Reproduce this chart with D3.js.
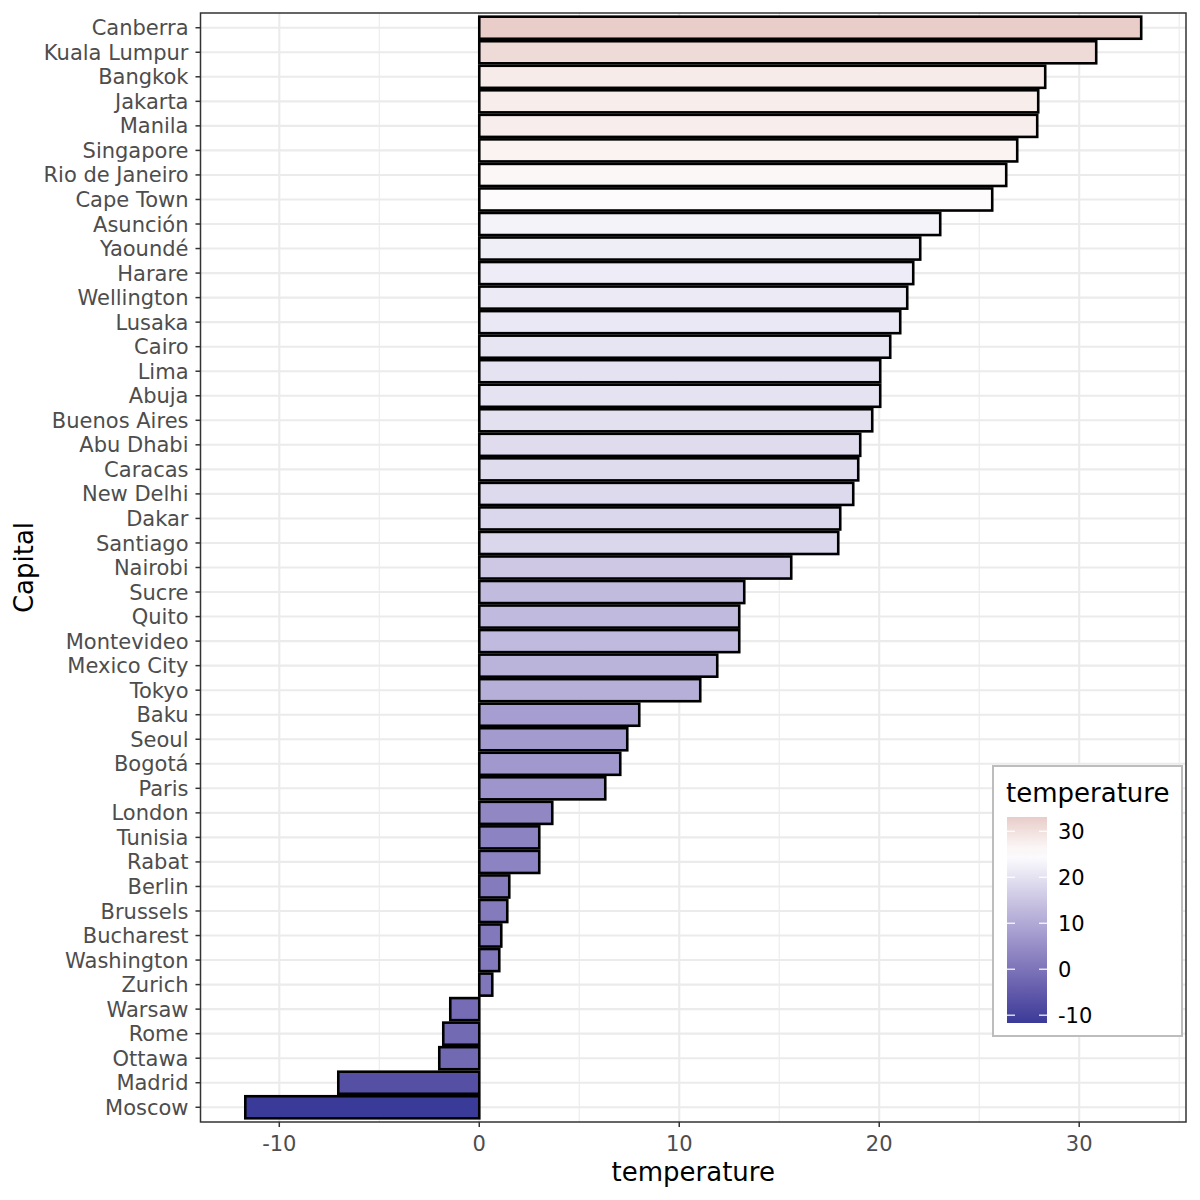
<!DOCTYPE html>
<html>
<head>
<meta charset="utf-8">
<script src="https://cdn.jsdelivr.net/npm/d3@7"></script>
<style>
  body { margin: 0; background: #fff; }
  svg { display: block; }
  text { font-family: "DejaVu Sans", sans-serif; }
</style>
</head>
<body>
<script>
const capitals = ["Canberra","Kuala Lumpur","Bangkok","Jakarta","Manila","Singapore","Rio de Janeiro","Cape Town","Asunción","Yaoundé","Harare","Wellington","Lusaka","Cairo","Lima","Abuja","Buenos Aires","Abu Dhabi","Caracas","New Delhi","Dakar","Santiago","Nairobi","Sucre","Quito","Montevideo","Mexico City","Tokyo","Baku","Seoul","Bogotá","Paris","London","Tunisia","Rabat","Berlin","Brussels","Bucharest","Washington","Zurich","Warsaw","Rome","Ottawa","Madrid","Moscow"];
const temperatures = [33.1,30.85,28.3,27.95,27.9,26.9,26.35,25.65,23.05,22.05,21.7,21.4,21.05,20.55,20.05,20.05,19.65,19.05,18.95,18.7,18.05,17.95,15.6,13.25,13.0,13.0,11.9,11.05,8.0,7.4,7.05,6.3,3.65,3.0,3.0,1.5,1.4,1.1,1.0,0.65,-1.45,-1.8,-2.0,-7.05,-11.7];
const xTicks = [-10, 0, 10, 20, 30];
const xMinorTicks = [-5, 5, 15, 25, 35];
const legendTicks = [-10, 0, 10, 20, 30];
const colourLow = "#3A3A98", colourMid = "#FFFFFF", colourHigh = "#832424";
const colourMidpoint = 25;

const W = 1200, H = 1200;
const panel = {left: 200.5, right: 1186, top: 13, bottom: 1122};

const svg = d3.select("body").append("svg").attr("width", W).attr("height", H);

const data = capitals.map((c, i) => ({capital: c, temp: temperatures[i]}));
const tMin = d3.min(temperatures), tMax = d3.max(temperatures);
const span = tMax - tMin;
const x = d3.scaleLinear()
  .domain([Math.min(0, tMin) - span * 0.05, tMax + span * 0.05])
  .range([panel.left, panel.right]);

// discrete y with 0.6 expansion
const n = capitals.length;
const y = d3.scaleLinear().domain([0.4, n + 0.6]).range([panel.top, panel.bottom]);
const yPos = i => y(i + 1);
const bandPx = y(2) - y(1);

// colour: gradient2 with rescale_mid
const maxDist = Math.max(Math.abs(tMin - colourMidpoint), Math.abs(tMax - colourMidpoint));
const ramp = d3.scaleLinear().domain([0, 0.5, 1]).range([colourLow, colourMid, colourHigh]).interpolate(d3.interpolateLab);
const fill = v => ramp((v - colourMidpoint) / (2 * maxDist) + 0.5);

// panel background
const g = svg.append("g");
g.append("rect").attr("x", panel.left).attr("y", panel.top)
  .attr("width", panel.right - panel.left).attr("height", panel.bottom - panel.top).attr("fill", "#fff");

// minor grid
g.selectAll(".minor").data(xMinorTicks.filter(t => x(t) > panel.left && x(t) < panel.right)).enter().append("line")
  .attr("x1", d => x(d)).attr("x2", d => x(d)).attr("y1", panel.top).attr("y2", panel.bottom)
  .attr("stroke", "#EBEBEB").attr("stroke-width", 1.1);
// major grid x
g.selectAll(".majorx").data(xTicks).enter().append("line")
  .attr("x1", d => x(d)).attr("x2", d => x(d)).attr("y1", panel.top).attr("y2", panel.bottom)
  .attr("stroke", "#EBEBEB").attr("stroke-width", 2.1);
// major grid y
g.selectAll(".majory").data(capitals).enter().append("line")
  .attr("x1", panel.left).attr("x2", panel.right).attr("y1", (d, i) => yPos(i)).attr("y2", (d, i) => yPos(i))
  .attr("stroke", "#EBEBEB").attr("stroke-width", 2.1);

// bars
const barH = bandPx * 0.9;
g.selectAll(".bar").data(data).enter().append("rect")
  .attr("x", d => Math.min(x(0), x(d.temp)))
  .attr("width", d => Math.abs(x(d.temp) - x(0)))
  .attr("y", (d, i) => yPos(i) - barH / 2)
  .attr("height", barH)
  .attr("fill", d => fill(d.temp))
  .attr("stroke", "#000").attr("stroke-width", 2.6);

// panel border
g.append("rect").attr("x", panel.left).attr("y", panel.top)
  .attr("width", panel.right - panel.left).attr("height", panel.bottom - panel.top)
  .attr("fill", "none").attr("stroke", "#333333").attr("stroke-width", 1.5);

// x axis ticks
const axisCol = "#4D4D4D";
g.selectAll(".xt").data(xTicks).enter().append("line")
  .attr("x1", d => x(d)).attr("x2", d => x(d)).attr("y1", panel.bottom).attr("y2", panel.bottom + 5)
  .attr("stroke", "#333333").attr("stroke-width", 1.5);
g.selectAll(".xl").data(xTicks).enter().append("text")
  .attr("x", d => x(d)).attr("y", panel.bottom + 29)
  .attr("text-anchor", "middle").attr("font-size", 21).attr("fill", axisCol)
  .text(d => d);

// y axis ticks
g.selectAll(".yt").data(capitals).enter().append("line")
  .attr("x1", panel.left - 5).attr("x2", panel.left).attr("y1", (d, i) => yPos(i)).attr("y2", (d, i) => yPos(i))
  .attr("stroke", "#333333").attr("stroke-width", 1.5);
g.selectAll(".yl").data(capitals).enter().append("text")
  .attr("x", panel.left - 12).attr("y", (d, i) => yPos(i))
  .attr("dy", "0.36em")
  .attr("text-anchor", "end").attr("font-size", 21).attr("fill", axisCol)
  .text(d => d);

// axis titles
svg.append("text").attr("x", (panel.left + panel.right) / 2).attr("y", 1181)
  .attr("text-anchor", "middle").attr("font-size", 26).attr("fill", "#000").text("temperature");
svg.append("text").attr("transform", `translate(33,${(panel.top + panel.bottom) / 2}) rotate(-90)`)
  .attr("text-anchor", "middle").attr("font-size", 26).attr("fill", "#000").text("Capital");

// legend
const leg = svg.append("g");
leg.append("rect").attr("x", 993).attr("y", 766).attr("width", 189).attr("height", 270)
  .attr("fill", "#fff").attr("stroke", "#BDBDBD").attr("stroke-width", 2);
leg.append("text").attr("x", 1006).attr("y", 802).attr("font-size", 26).attr("fill", "#000").text("temperature");

const lbTop = 817, lbBottom = 1023, lbX = 1007, lbW = 40;
const ly = d3.scaleLinear().domain([tMin, tMax]).range([lbBottom, lbTop]);
const defs = svg.append("defs");
const grad = defs.append("linearGradient").attr("id", "lg").attr("x1", 0).attr("y1", 1).attr("x2", 0).attr("y2", 0);
d3.range(0, 21).forEach(k => {
  const v = tMin + (tMax - tMin) * k / 20;
  grad.append("stop").attr("offset", k / 20).attr("stop-color", fill(v));
});
leg.append("rect").attr("x", lbX).attr("y", lbTop).attr("width", lbW).attr("height", lbBottom - lbTop)
  .attr("fill", "url(#lg)");
legendTicks.forEach(t => {
  leg.append("line").attr("x1", lbX).attr("x2", lbX + 8).attr("y1", ly(t)).attr("y2", ly(t))
    .attr("stroke", "#fff").attr("stroke-width", 1.2);
  leg.append("line").attr("x1", lbX + lbW - 8).attr("x2", lbX + lbW).attr("y1", ly(t)).attr("y2", ly(t))
    .attr("stroke", "#fff").attr("stroke-width", 1.2);
  leg.append("text").attr("x", 1058).attr("y", ly(t)).attr("dy", "0.36em")
    .attr("font-size", 21).attr("fill", "#000").text(t);
});
</script>
</body>
</html>
